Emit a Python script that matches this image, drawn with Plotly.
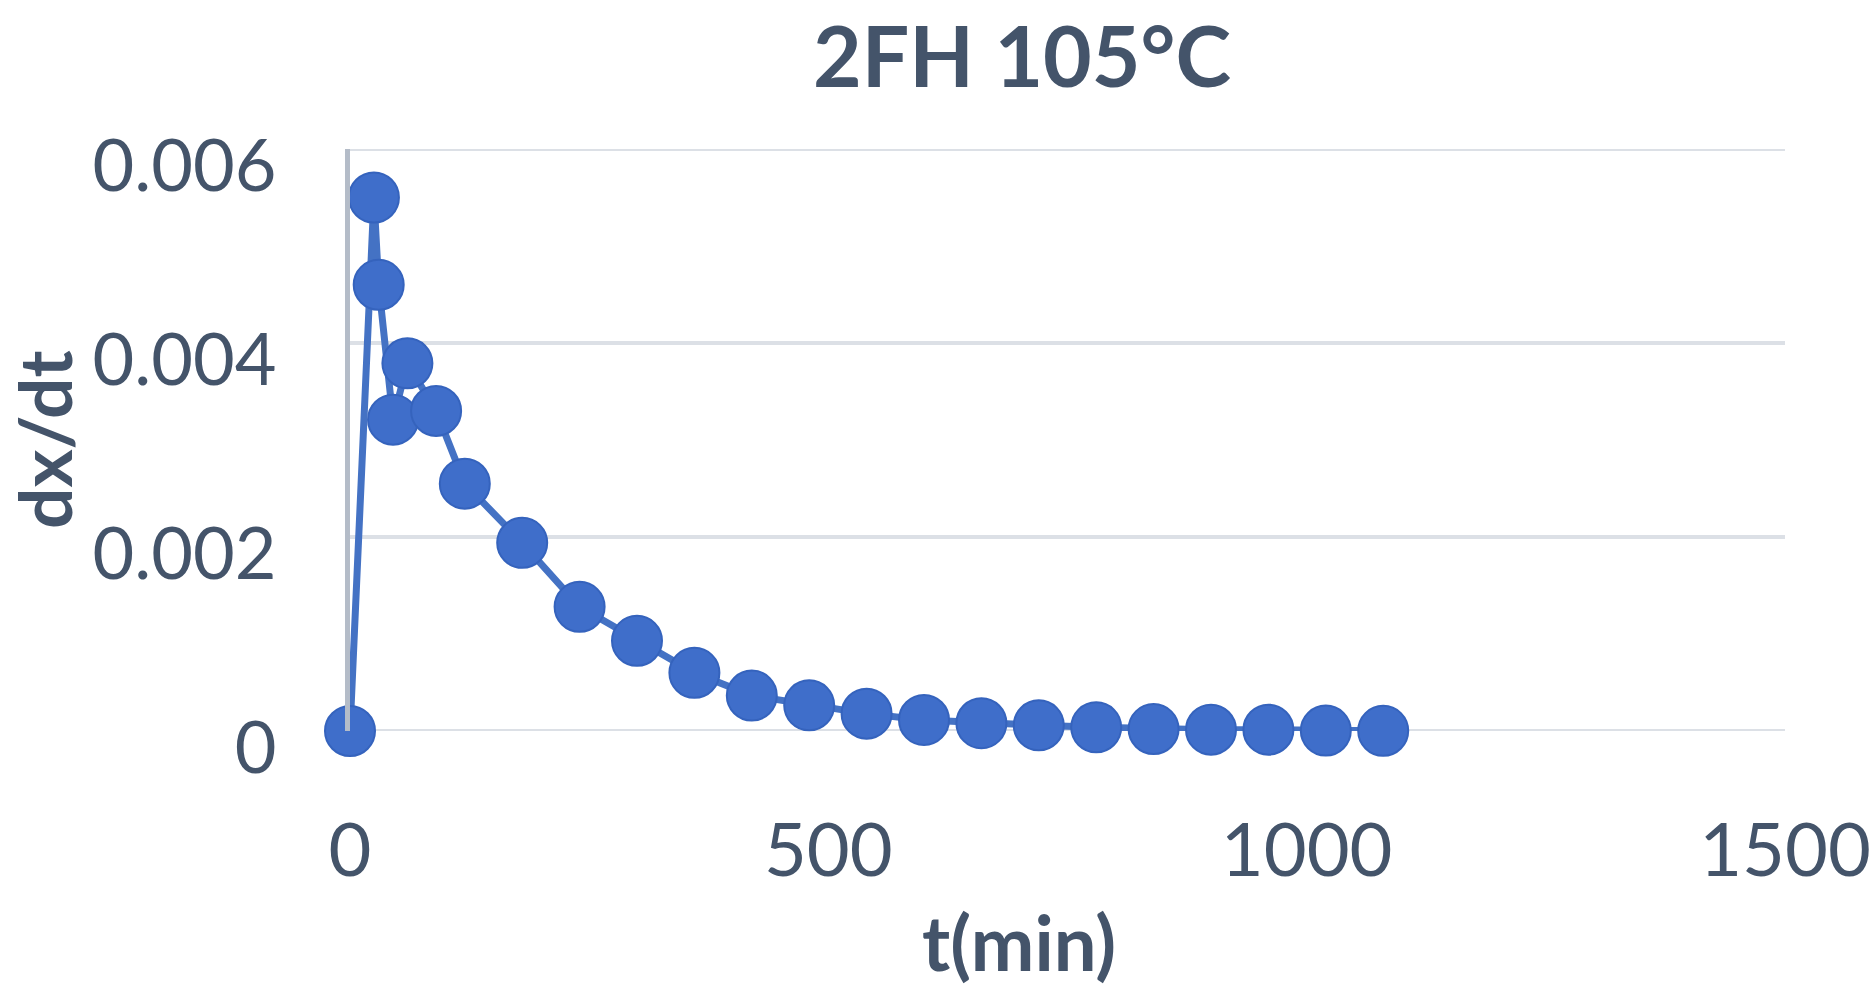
import plotly.graph_objects as go

t_min = [0, 25, 30, 45, 60, 90, 120, 180, 240, 300, 360, 420, 480, 540, 600,
         660, 720, 780, 840, 900, 960, 1020, 1080]
dxdt = [0, 0.0055, 0.0046, 0.00321, 0.00379, 0.0033, 0.00255, 0.00194, 0.00128,
        0.00093, 0.0006, 0.000365, 0.000265, 0.000179, 0.000114, 0.00008,
        0.000059, 0.000038, 0.00002, 0.000014, 0.000014, 0.000005, 0.000002]
x_ticks = [0, 500, 1000, 1500]
y_ticks = [0, 0.002, 0.004, 0.006]
y_ticktext = ["0", "0.002", "0.004", "0.006"]

TXT = "#44546A"
FONT = "Lato"
W, H = 1871, 997
# plot area in page pixels: x 350..1785, y 149..731
ML, MT = 350, 149
MR = W - 1785
MB = H - 731
pw = W - ML - MR
ph = H - MT - MB

def px(xp):  # page x -> paper x
    return (xp - ML) / pw

def py(yp):  # page y -> paper y
    return (H - MB - yp) / ph

fig = go.Figure()

for yv in y_ticks:
    fig.add_shape(type="line", xref="x", yref="y", x0=x_ticks[0], x1=x_ticks[-1],
                  y0=yv, y1=yv, line=dict(color="#DCE0E6", width=4), layer="below")

fig.add_trace(go.Scatter(
    x=t_min, y=dxdt, mode="lines+markers",
    line=dict(color="#4472C4", width=7),
    marker=dict(size=50, color="#3F6ECA", line=dict(color="#3563BD", width=2)),
    cliponaxis=False, showlegend=False,
))

fig.update_layout(
    width=W, height=H,
    paper_bgcolor="white", plot_bgcolor="white",
    margin=dict(l=ML, r=MR, t=MT, b=MB, autoexpand=False),
    title=dict(text="<b>2FH 105°C</b>", font=dict(family=FONT, size=84, color=TXT),
               x=1022 / W, xref="container", xanchor="center",
               y=1 - 58 / H, yref="container", yanchor="middle"),
    font=dict(family=FONT, color=TXT),
    annotations=[
        dict(text="<b>t(min)</b>", xref="paper", yref="paper",
             x=px(1019), y=py(941), xanchor="center", yanchor="middle",
             showarrow=False, font=dict(family=FONT, size=76, color=TXT)),
        dict(text="<b>dx/dt</b>", xref="paper", yref="paper", textangle=-90,
             x=px(44), y=py(440), xanchor="center", yanchor="middle",
             showarrow=False, font=dict(family=FONT, size=73, color=TXT)),
    ],
)
fig.update_xaxes(
    range=[0, 1500], tickvals=x_ticks, showgrid=False, zeroline=False,
    showline=False, ticks="", tickfont=dict(family=FONT, size=74, color=TXT),
    ticklabelstandoff=70, ticklabeloverflow="allow", automargin=False,
)
fig.update_yaxes(
    range=[0, 0.006], tickvals=y_ticks, ticktext=y_ticktext,
    showgrid=False, zeroline=False,
    showline=True, linecolor="#B4BCC8", linewidth=5, ticks="",
    tickfont=dict(family=FONT, size=72, color=TXT),
    ticklabelstandoff=54, ticklabelshift=17, automargin=False,
)

fig.write_html("out.html", config={"displayModeBar": False},
               post_script="document.body.style.margin='0';")
